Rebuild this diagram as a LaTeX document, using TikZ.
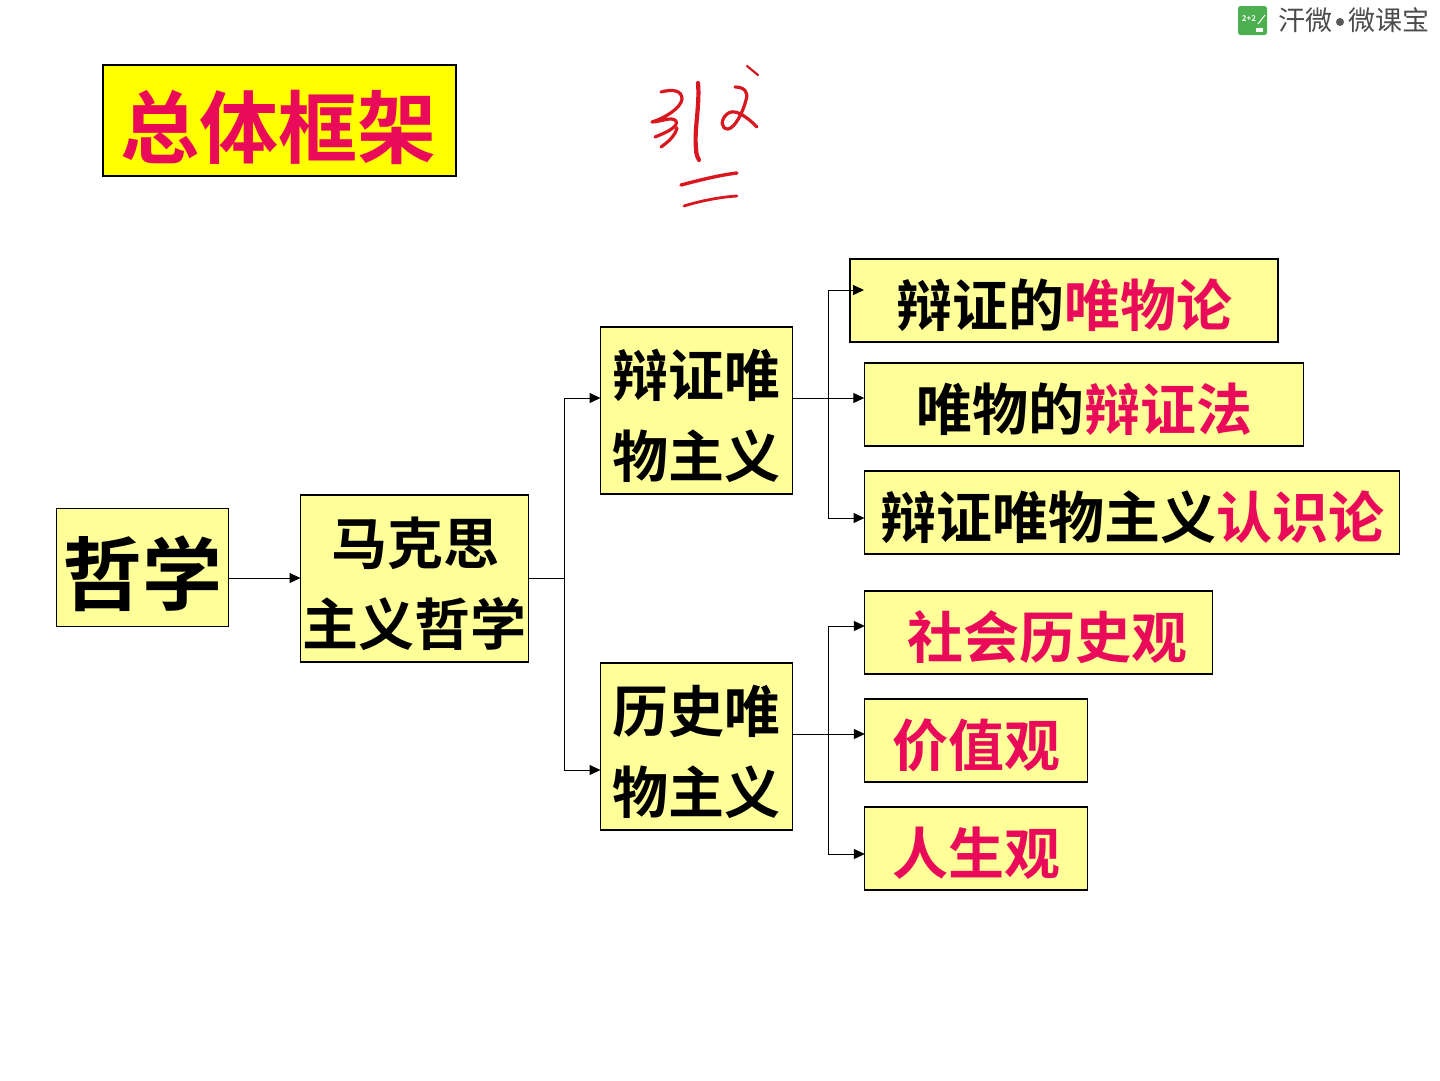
\documentclass[tikz,border=0pt]{standalone}
\usepackage{fontspec}
\newfontfamily\cjkb{Noto Sans CJK SC Bold}
\newfontfamily\cjkr{Noto Sans CJK SC}
\usetikzlibrary{arrows.meta}
\definecolor{paleY}{HTML}{FFFF99}
\definecolor{fullY}{HTML}{FFFF00}
\definecolor{hotR}{HTML}{EA0A5A}
\definecolor{inkR}{HTML}{D81820}
\definecolor{wmG}{HTML}{4CAF50}
\tikzset{
 x=1pt,y=-1pt,
 fbox/.style={draw=black,line width=1.2pt,fill=paleY,inner sep=0pt,outer sep=0pt},
 sz/.style={font=\cjkb\fontsize{#1}{#1}\selectfont,inner sep=0pt},
 conn/.style={line width=1pt,draw=black},
 arr/.style={conn,-{Triangle[length=11pt,width=10pt]}},
 ink/.style={draw=inkR,line width=3.2pt,line cap=round,line join=round}
}
\newcommand{\hot}[1]{\textcolor{hotR}{#1}}
\begin{document}
\begin{tikzpicture}
\useasboundingbox (0,0) rectangle (1440,1080);
% title
\node[fbox,fill=fullY,minimum width=353pt,minimum height=111pt] (title) at (279.5,120.5) {};
\node[sz=79] (titlet) at (278,127) {\hot{总体框架}};
% main boxes
\node[fbox,minimum width=172pt,minimum height=118pt] (zx) at (142.5,567.5) {};
\node[sz=80] (zxt) at (142,574) {哲学};
\node[fbox,minimum width=228pt,minimum height=167pt] (mks) at (414.5,578.5) {};
\node[sz=56] (mks1) at (415,543) {马克思};
\node[sz=56] (mks2) at (414,624) {主义哲学};
\node[fbox,minimum width=192pt,minimum height=167pt] (bz) at (696.5,410.5) {};
\node[sz=56] (bz1) at (696.5,375) {辩证唯};
\node[sz=56] (bz2) at (696.5,456) {物主义};
\node[fbox,minimum width=192pt,minimum height=167pt] (ls) at (696.5,746.5) {};
\node[sz=56] (ls1) at (696.5,711) {历史唯};
\node[sz=56] (ls2) at (696.5,792) {物主义};
% right boxes
\node[fbox,minimum width=428pt,minimum height=83pt] (r1) at (1064,300.5) {};
\node[sz=56] (r1t) at (1064,305) {辩证的\hot{唯物论}};
\node[fbox,minimum width=439pt,minimum height=83pt] (r2) at (1083.8,404.5) {};
\node[sz=56] (r2t) at (1084,409) {唯物的\hot{辩证法}};
\node[fbox,minimum width=535pt,minimum height=83pt] (r3) at (1132,512.5) {};
\node[sz=56] (r3t) at (1132,517) {辩证唯物主义\hot{认识论}};
\node[fbox,minimum width=348pt,minimum height=83pt] (r4) at (1038.8,632.5) {};
\node[sz=56] (r4t) at (1047,637) {\hot{社会历史观}};
\node[fbox,minimum width=223pt,minimum height=83pt] (r5) at (976.3,740.5) {};
\node[sz=56] (r5t) at (976,745) {\hot{价值观}};
\node[fbox,minimum width=223pt,minimum height=83pt] (r6) at (976.3,848.5) {};
\node[sz=56] (r6t) at (976,853) {\hot{人生观}};
% connectors
\coordinate (zxout) at (zx.east |- 0,578);
\coordinate (mksin) at (mks.west |- 0,578);
\draw[arr] (zxout) -- (mksin);
\coordinate (mksout) at (mks.east |- 0,578);
\coordinate (j1) at (564,578);
\coordinate (bzin) at (bz.west |- 0,398);
\coordinate (lsin) at (ls.west |- 0,770);
\draw[conn] (mksout) -- (j1);
\draw[arr] (j1) |- (bzin);
\draw[arr] (j1) |- (lsin);
\coordinate (bzout) at (bz.east |- 0,398);
\coordinate (j2) at (828,398);
\coordinate (r1in) at (864,290);
\coordinate (r2in) at (r2.west |- 0,398);
\coordinate (r3in) at (r3.west |- 0,518);
\draw[arr] (bzout) -- (r2in);
\draw[arr] (j2) |- (r1in);
\draw[arr] (j2) |- (r3in);
\coordinate (lsout) at (ls.east |- 0,734);
\coordinate (j3) at (828,734);
\coordinate (r4in) at (r4.west |- 0,626);
\coordinate (r5in) at (r5.west |- 0,734);
\coordinate (r6in) at (r6.west |- 0,854);
\draw[arr] (lsout) -- (r5in);
\draw[arr] (j3) |- (r4in);
\draw[arr] (j3) |- (r6in);
% handwriting
\draw[ink] (661,92) .. controls (672,89) and (682,90) .. (682,99) .. controls (681,108) and (665,118) .. (652,122) .. controls (660,122) and (672,116) .. (676,121) .. controls (679,127) and (665,133) .. (655,137);
\draw[ink] (677,128) .. controls (675,136) and (668,142) .. (661,147);
\draw[ink,line width=4.2pt] (698,83) .. controls (700,105) and (694,130) .. (696,148) .. controls (696,155) and (698,158) .. (699,160);
\draw[ink] (735,87) .. controls (744,87) and (749,92) .. (746,100) .. controls (743,112) and (735,128) .. (728,129) .. controls (721,129) and (720,120) .. (727,114) .. controls (734,108) and (745,115) .. (757,127);
\draw[ink,line width=2.2pt] (747,66) -- (758,75);
\draw[ink,line width=3.4pt] (681,185) .. controls (700,180) and (720,175) .. (737,173);
\draw[ink,line width=2.8pt] (684,206) .. controls (700,201) and (720,197) .. (737,196);
% watermark
\node[fill=wmG,rounded corners=2.5pt,minimum width=29pt,minimum height=29pt,inner sep=0pt] (logo) at (1252.5,20.5) {};
\node[text=white,font=\cjkb\fontsize{8}{8}\selectfont,inner sep=0pt] (logot) at (1249,19) {2+2};
\draw[white,line width=1pt] (1258,24) -- (1265,15);
\fill[white] (1256,28) rectangle (1263,32);
\node[text=black!70,font=\cjkr\fontsize{27}{27}\selectfont,inner sep=0pt] (wm1) at (1305,20) {汗微};
\fill[black!65] (1340,22) circle (4);
\node[text=black!70,font=\cjkr\fontsize{27}{27}\selectfont,inner sep=0pt] (wm2) at (1389,20) {微课宝};
\end{tikzpicture}
\end{document}
